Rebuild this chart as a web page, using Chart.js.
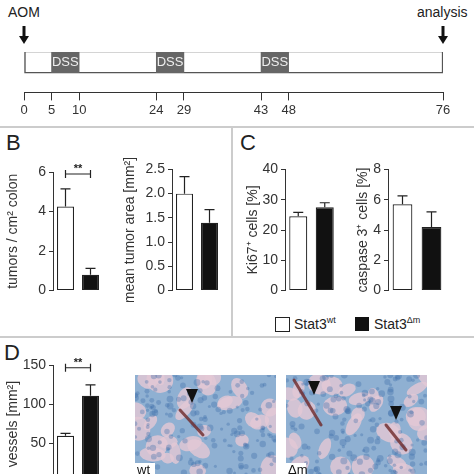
<!DOCTYPE html>
<html><head><meta charset="utf-8">
<script src="https://cdn.jsdelivr.net/npm/chart.js@4"></script>
<style>
body{margin:0;width:474px;height:474px;overflow:hidden;background:#fff;font-family:"Liberation Sans",Arial,sans-serif;position:relative;color:#222}
canvas{position:absolute}
.t{position:absolute;white-space:nowrap}
</style></head><body>
<div class="t" style="left:8px;top:4px;font-size:14px">AOM</div>
<div class="t" style="left:417px;top:4px;font-size:14px">analysis</div>
<svg style="position:absolute;left:0;top:0" width="474" height="50">
<path d="M24 26 V38" stroke="#111" stroke-width="3"/><path d="M19 36 L29 36 L24 44 Z" fill="#111"/>
<path d="M443 26 V38" stroke="#111" stroke-width="3"/><path d="M438 36 L448 36 L443 44 Z" fill="#111"/>
</svg>
<div style="position:absolute;left:0;top:126px;width:474px;height:2px;background:#ccc"></div>
<div style="position:absolute;left:231px;top:128px;width:2px;height:208px;background:#ccc"></div>
<div style="position:absolute;left:0;top:336px;width:474px;height:2px;background:#ccc"></div>
<div class="t" style="left:6px;top:130px;font-size:22px">B</div>
<div class="t" style="left:240px;top:130px;font-size:22px">C</div>
<div class="t" style="left:4px;top:340px;font-size:22px">D</div>
<div style="position:absolute;left:275px;top:317px;width:13px;height:13px;border:1px solid #222;background:#fff"></div>
<div class="t" style="left:294px;top:315px;font-size:14px">Stat3<sup style="font-size:9px">wt</sup></div>
<div style="position:absolute;left:355px;top:317px;width:14px;height:14px;background:#111"></div>
<div class="t" style="left:374px;top:315px;font-size:14px">Stat3<sup style="font-size:9px">Δm</sup></div>
<canvas id="tl" style="left:0;top:40px" width="474" height="80"></canvas>
<canvas id="b1"></canvas><canvas id="b2"></canvas><canvas id="c1"></canvas><canvas id="c2"></canvas><canvas id="d1"></canvas>
<canvas id="im1" width="141" height="100" style="left:135px;top:375px"></canvas>
<canvas id="im2" width="141" height="100" style="left:286px;top:375px"></canvas>
<script>
// ---- data ----
const timelineTicks=[0,5,10,24,29,43,48,76];
const dssPeriods=[[5,10],[24,29],[43,48]];
const groups=["Stat3wt","Stat3Δm"];
const tumorsPerCm2=[4.25,0.8], tumorsErr=[5.15,1.12];
const tumorArea=[2.0,1.4], tumorAreaErr=[2.35,1.67];
const ki67=[24.5,27.5], ki67Err=[25.8,29.0];
const caspase3=[5.7,4.2], caspase3Err=[6.25,5.2];
const vessels=[60,111], vesselsErr=[63,125];

const FONT={family:"'Liberation Sans', Arial, sans-serif",size:13};
Chart.defaults.animation=false;
Chart.defaults.color="#333";

new Chart(document.getElementById('tl'),{
 type:'bar',
 data:{labels:['a','b'],datasets:[
   {data:[{x:[0,76],y:'a'}],backgroundColor:'#fff',borderColor:'#555',borderWidth:1.5,borderSkipped:false,barThickness:22,grouped:false,order:2},
   {data:dssPeriods.map(p=>({x:p,y:'a'})),backgroundColor:'#666',borderWidth:0,barThickness:21,grouped:false,order:1}
 ]},
 options:{indexAxis:'y',responsive:false,layout:{padding:{left:24,right:31,top:12,bottom:0}},
  plugins:{legend:{display:false},tooltip:{enabled:false}},
  scales:{y:{display:false},
   x:{type:'linear',min:0,max:76,afterBuildTicks:s=>{s.ticks=timelineTicks.map(v=>({value:v}))},
     grid:{drawOnChartArea:false,tickLength:8,color:'#333'},border:{color:'#333'},
     ticks:{font:FONT,color:'#333',autoSkip:false,maxRotation:0,padding:2}}}},
 plugins:[{id:'dss',afterDatasetsDraw(c){const ctx=c.ctx,m=c.getDatasetMeta(1);ctx.save();ctx.fillStyle='#eee';ctx.font="13px 'Liberation Sans', Arial";ctx.textAlign='center';ctx.textBaseline='middle';m.data.forEach(b=>{ctx.fillText('DSS',(b.x+b.base)/2,b.y)});ctx.restore();}}]
});

function mk(id,L,T,axisX,top,bottom,right,max,step,data,err,title,sig){
 const cv=document.getElementById(id);
 cv.width=right-L+4;cv.height=bottom-T+4;cv.style.left=L+'px';cv.style.top=T+'px';
 new Chart(cv,{type:'bar',
  data:{labels:groups,datasets:[{data:data,backgroundColor:['#fff','#111'],borderColor:'#222',borderWidth:1.2,borderSkipped:false,barPercentage:0.68,categoryPercentage:1}]},
  options:{responsive:false,maintainAspectRatio:false,layout:{padding:{top:top-T,bottom:4,right:4,left:0}},
   plugins:{legend:{display:false},tooltip:{enabled:false}},
   scales:{x:{display:false},
    y:{min:0,max:max,afterFit:s=>{s.width=axisX-L},
     ticks:{stepSize:step,font:{...FONT,size:14},color:'#333',padding:3},
     grid:{drawOnChartArea:false,tickLength:4,color:'#333'},border:{color:'#333'},
     title:{display:true,text:title,font:{...FONT,size:14},color:'#333',padding:0}}}},
  plugins:[{id:'err',afterDatasetsDraw(c){const ctx=c.ctx,m=c.getDatasetMeta(0),ys=c.scales.y;ctx.save();ctx.strokeStyle='#222';ctx.lineWidth=1.2;
   m.data.forEach((b,i)=>{const y=ys.getPixelForValue(err[i]);ctx.beginPath();ctx.moveTo(b.x,b.y);ctx.lineTo(b.x,y);ctx.moveTo(b.x-5,y);ctx.lineTo(b.x+5,y);ctx.stroke();});
   if(sig){const y=ys.getPixelForValue(sig),a=m.data[0].x,b=m.data[1].x;ctx.beginPath();ctx.moveTo(a,y);ctx.lineTo(b,y);ctx.moveTo(a,y-4);ctx.lineTo(a,y+4);ctx.moveTo(b,y-4);ctx.lineTo(b,y+4);ctx.stroke();
    ctx.fillStyle='#222';ctx.font="bold 11px 'Liberation Sans', Arial";ctx.textAlign='center';ctx.fillText('**',(a+b)/2,y-2);}
   ctx.restore();}}]
 });
}
mk('b1',5,160,53,172,298,103,6,2,tumorsPerCm2,tumorsErr,'tumors / cm² colon',5.9);
mk('b2',122,158,172,168,298,222,2.5,0.5,tumorArea,tumorAreaErr,'mean tumor area [mm²]');
mk('c1',245,158,285,168,298,338,40,10,ki67,ki67Err,'Ki67⁺ cells [%]');
mk('c2',355,158,388,168,298,446,8,2,caspase3,caspase3Err,'caspase 3⁺ cells [%]');
mk('d1',5,354,53,364,490,103,150,50,vessels,vesselsErr,'vessels [mm²]',147);

// micrographs (illustrative texture)
function micro(id,label,streaks,seed){
 const c=document.getElementById(id).getContext('2d');let s=seed;const r=()=>{s=(s*9301+49297)%233280;return s/233280};
 c.fillStyle='#8fb0d2';c.fillRect(0,0,141,100);
 for(let i=0;i<30;i++){c.fillStyle='rgba(228,200,212,0.8)';c.beginPath();c.ellipse(r()*141,r()*100,5+r()*9,5+r()*8,r()*3,0,7);c.fill();}
 for(let i=0;i<160;i++){c.fillStyle='rgba(60,110,170,0.35)';c.beginPath();c.arc(r()*141,r()*100,1.5+r()*2,0,7);c.fill();}
 c.strokeStyle='rgba(110,40,40,0.8)';c.lineWidth=3;c.lineCap='round';
 streaks.forEach(p=>{c.beginPath();c.moveTo(p[0],p[1]);c.lineTo(p[2],p[3]);c.stroke();c.fillStyle='#111';c.beginPath();c.moveTo(p[4],p[5]);c.lineTo(p[4]-6,p[5]-14);c.lineTo(p[4]+6,p[5]-14);c.closePath();c.fill();});
 c.fillStyle='#fff';c.fillRect(0,88,label.length*8+4,12);c.fillStyle='#111';c.font="13px 'Liberation Sans', Arial";c.fillText(label,2,99);
}
micro('im1','wt',[[45,35,68,60,57,28]],7);
micro('im2','Δm',[[8,5,35,50,28,20],[100,50,120,75,110,45]],13);
</script></body></html>
